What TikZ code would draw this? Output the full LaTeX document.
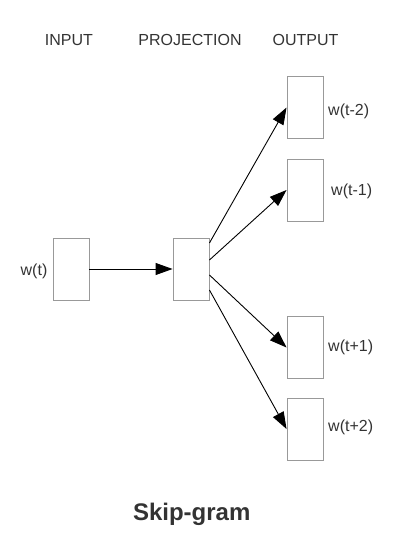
\documentclass[tikz,border=0pt]{standalone}
\usepackage{fontspec}
\setmainfont{Liberation Sans}
\usetikzlibrary{arrows.meta}
\definecolor{txt}{HTML}{333333}
\definecolor{boxline}{HTML}{999999}
\tikzset{
  unit/.style={draw=boxline, line width=0.9pt, fill=white, minimum width=36pt, minimum height=62pt, inner sep=0pt},
  lbl/.style={text=txt, font=\fontsize{16}{19}\selectfont, inner sep=0pt},
  conn/.style={draw=black, line width=0.9pt, -{Triangle[length=17pt,width=12pt]}}
}
\begin{document}
\begin{tikzpicture}[x=1pt,y=1pt]
\useasboundingbox (0,0) rectangle (410,550);
% headers
\node[lbl] (hin) at (69,510) {INPUT};
\node[lbl] (hproj) at (190,510) {PROJECTION};
\node[lbl] (hout) at (305.5,510) {OUTPUT};
% boxes
\node[unit] (inp) at (71,281) {};
\node[unit] (proj) at (191,281) {};
\node[unit] (o1) at (305,442.5) {};
\node[unit] (o2) at (305,360) {};
\node[unit] (o3) at (305,202.5) {};
\node[unit] (o4) at (305,121) {};
% labels
\node[lbl, anchor=east] (lin) at (inp.west) [xshift=-5pt,yshift=-2pt] {w(t)};
\node[lbl, anchor=west] (l1) at (328,439) {w(t-2)};
\node[lbl, anchor=west] (l2) at (331,359) {w(t-1)};
\node[lbl, anchor=west] (l3) at (328,203) {w(t+1)};
\node[lbl, anchor=west] (l4) at (328,123) {w(t+2)};
% connectors
\draw[conn] (inp.east) -- (proj.west);
\draw[conn] ([yshift=26pt]proj.east) -- (o1.west);
\draw[conn] ([yshift=9pt]proj.east) -- (o2.west);
\draw[conn] ([yshift=-6pt]proj.east) -- (o3.west);
\draw[conn] ([yshift=-21pt]proj.east) -- (o4.west);
% title
\node[text=txt, font=\fontsize{24}{28}\selectfont\bfseries, inner sep=0pt] (title) at (191.7,36) {Skip-gram};
\end{tikzpicture}
\end{document}
